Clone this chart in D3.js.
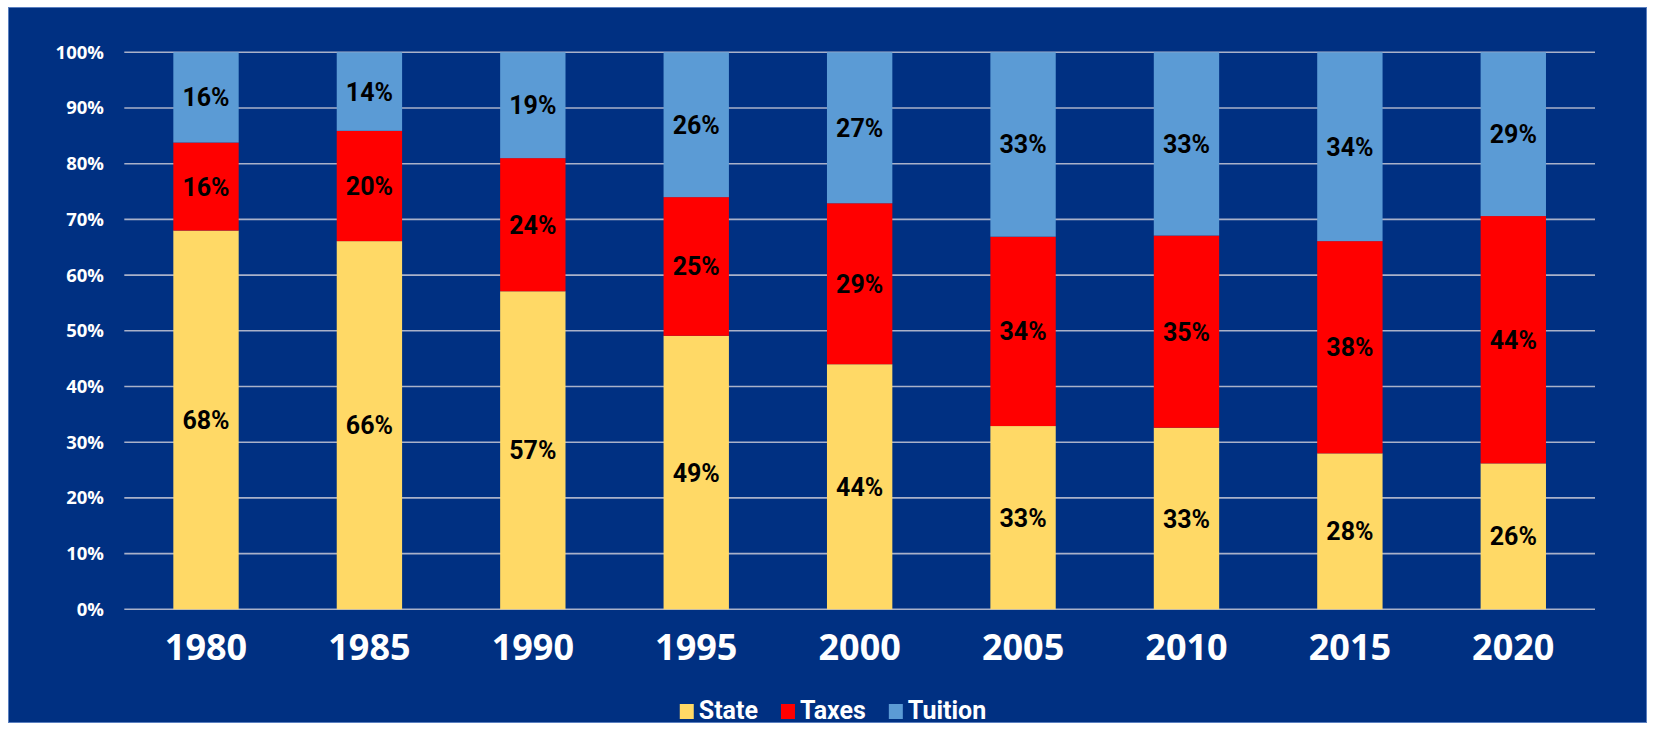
<!DOCTYPE html>
<html>
<head>
<meta charset="utf-8">
<script src="https://cdn.jsdelivr.net/npm/d3@7"></script>
<style>
  body { margin: 0; background: #fff; }
  svg { display: block; }
</style>
</head>
<body>
<svg width="1658" height="734"></svg>
<script>
var years = ["1980", "1985", "1990", "1995", "2000", "2005", "2010", "2015", "2020"];
var state = [68, 66.1, 57.1, 49.1, 44, 32.9, 32.6, 28, 26.2];
var taxes = [15.8, 19.8, 23.9, 24.9, 28.9, 34, 34.5, 38.1, 44.4];
var tuition = [16.2, 14.1, 19, 26, 27.1, 33.1, 32.9, 33.9, 29.4];
var seriesNames = ["State", "Taxes", "Tuition"];
var seriesColors = ["#ffd966", "#ff0000", "#5b9bd5"];
var yTicks = [0, 10, 20, 30, 40, 50, 60, 70, 80, 90, 100];

var svg = d3.select("svg"),
    width = +svg.attr("width"),
    height = +svg.attr("height");

var margin = {top: 52.3, left: 124.3, right: 1595, bottom: 609.3};

// chart background
svg.append("rect")
    .attr("x", 8.5).attr("y", 7.5)
    .attr("width", 1638).attr("height", 715)
    .attr("fill", "#003082")
    .attr("stroke", "#5a7fbf")
    .attr("stroke-width", 1);

var x = d3.scaleBand()
    .domain(years)
    .range([margin.left, margin.right])
    .paddingInner(0.6)
    .paddingOuter(0.3);

var y = d3.scaleLinear()
    .domain([0, 100])
    .range([margin.bottom, margin.top]);

var color = d3.scaleOrdinal().domain(seriesNames).range(seriesColors);

// gridlines
svg.append("g")
  .selectAll("line")
  .data(yTicks)
  .enter().append("line")
    .attr("x1", margin.left).attr("x2", margin.right)
    .attr("y1", function(d) { return y(d); })
    .attr("y2", function(d) { return y(d); })
    .attr("stroke", "#a9b1c9")
    .attr("stroke-width", 1.6);

// y axis labels
var yAxis = d3.axisLeft(y).tickValues(yTicks).tickSize(0).tickPadding(0)
    .tickFormat(function(d) { return d + "%"; });
svg.append("g")
    .attr("transform", "translate(104,0)")
    .call(yAxis)
    .call(function(g) { g.select(".domain").remove(); })
    .selectAll("text")
      .attr("fill", "#fff")
      .attr("font-family", "'Open Sans', sans-serif")
      .attr("font-weight", "bold")
      .attr("font-size", "18.5px");

// x axis labels
var xAxis = d3.axisBottom(x).tickSize(0).tickPadding(0);
svg.append("g")
    .attr("transform", "translate(0,634)")
    .call(xAxis)
    .call(function(g) { g.select(".domain").remove(); })
    .selectAll("text")
      .attr("fill", "#fff")
      .attr("font-family", "'Open Sans', sans-serif")
      .attr("font-weight", "bold")
      .attr("font-size", "36px");

// stacked data
var table = years.map(function(yr, i) {
  return {year: yr, State: state[i], Taxes: taxes[i], Tuition: tuition[i]};
});
var stacked = d3.stack().keys(seriesNames)(table);
stacked.forEach(function(s) { s.forEach(function(d) { d.key = s.key; }); });

var layer = svg.append("g").selectAll("g")
  .data(stacked)
  .enter().append("g")
    .attr("fill", function(d) { return color(d.key); });

layer.selectAll("rect")
  .data(function(d) { return d; })
  .enter().append("rect")
    .attr("x", function(d) { return x(d.data.year); })
    .attr("y", function(d) { return y(d[1]); })
    .attr("width", x.bandwidth())
    .attr("height", function(d) { return y(d[0]) - y(d[1]); });

layer.selectAll("text")
  .data(function(d) { return d; })
  .enter().append("text")
    .attr("x", function(d) { return x(d.data.year) + x.bandwidth() / 2; })
    .attr("y", function(d) { return y((d[0] + d[1]) / 2); })
    .attr("dy", "0.36em")
    .attr("text-anchor", "middle")
    .attr("fill", "#000")
    .attr("font-family", "Roboto, sans-serif")
    .attr("font-weight", "bold")
    .attr("font-size", "25px")
    .text(function(d) { return Math.round(d.data[d.key]) + "%"; });

// legend
var legend = svg.append("g");
var lx = 0;
seriesNames.forEach(function(name, i) {
  var item = legend.append("g").attr("transform", "translate(" + lx + ",0)");
  item.append("rect")
      .attr("x", 0).attr("y", -15)
      .attr("width", 14).attr("height", 15)
      .attr("fill", color(name));
  var t = item.append("text")
      .attr("x", 19).attr("y", 0)
      .attr("fill", "#fff")
      .attr("font-family", "Roboto, sans-serif")
      .attr("font-weight", "bold")
      .attr("font-size", "25px")
      .text(name);
  lx += 19 + t.node().getComputedTextLength() + 23;
});
var legendWidth = lx - 23;
legend.attr("transform", "translate(" + (833 - legendWidth / 2) + ",719)");
</script>
</body>
</html>
